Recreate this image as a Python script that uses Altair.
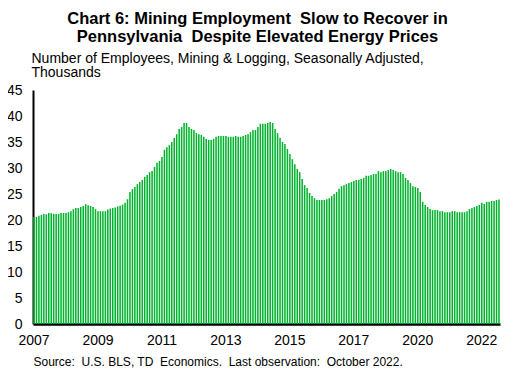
import altair as alt
import pandas as pd

# Monthly values, Jan 2007 .. Oct 2022 (thousands)
v2007 = [20.6, 20.6, 20.8, 21.0, 21.15, 21.1, 21.35, 21.3, 21.15, 21.15, 21.15, 21.35]
v2008 = [21.35, 21.35, 21.5, 21.7, 22.1, 22.3, 22.3, 22.5, 22.7, 23.05, 22.85, 22.7]
v2009 = [22.5, 22.1, 21.7, 21.7, 21.7, 21.7, 22.0, 22.2, 22.3, 22.4, 22.6, 22.75]
v2010 = [22.95, 23.3, 24.0, 25.4, 25.96, 26.35, 26.9, 27.3, 27.7, 28.3, 28.65, 29.2]
v2011 = [29.4, 30.2, 31.0, 31.35, 32.1, 33.5, 34.0, 34.4, 35.0, 35.8, 36.5, 37.5]
v2012 = [37.9, 38.65, 38.65, 37.9, 37.5, 37.3, 36.7, 36.5, 36.35, 36.0, 35.6, 35.4]
v2013 = [35.4, 35.6, 36.0, 36.15, 36.15, 36.15, 36.15, 36.0, 36.0, 36.0, 36.15, 36.0]
v2014 = [36.0, 36.15, 36.35, 36.5, 36.9, 37.3, 37.3, 37.9, 38.5, 38.5, 38.5, 38.65]
v2015 = [38.85, 38.65, 37.5, 36.7, 35.8, 35.0, 34.6, 33.65, 32.7, 31.7, 30.7, 29.8]
v2016 = [29.2, 27.9, 26.7, 26.15, 25.2, 24.6, 24.2, 23.85, 23.85, 23.85, 23.85, 24.0]
v2017 = [24.2, 24.6, 25.0, 25.4, 26.0, 26.5, 26.7, 26.9, 27.1, 27.3, 27.5, 27.7]
v2018 = [27.7, 27.9, 28.1, 28.5, 28.5, 28.65, 28.85, 28.85, 29.4, 29.2, 29.4, 29.4]
v2019 = [29.6, 29.8, 29.6, 29.4, 29.2, 29.2, 28.85, 28.1, 27.7, 27.1, 26.5, 26.35]
v2020 = [26.15, 25.4, 23.5, 22.9, 22.5, 22.1, 21.9, 21.9, 21.9, 21.7, 21.7, 21.5]
v2021 = [21.5, 21.5, 21.7, 21.7, 21.5, 21.5, 21.5, 21.5, 21.7, 22.1, 22.3, 22.5]
v2022 = [22.7, 22.9, 23.3, 23.1, 23.5, 23.5, 23.65, 23.65, 23.85, 23.95]

values = (v2007 + v2008 + v2009 + v2010 + v2011 + v2012 + v2013 + v2014
          + v2015 + v2016 + v2017 + v2018 + v2019 + v2020 + v2021 + v2022)

tick_index = [0, 26, 52, 78, 104, 130, 156, 182]
tick_labels = ["2007", "2009", "2011", "2013", "2015", "2017", "2020", "2022"]

NB = "\u00a0"
title_lines = [f"Chart 6: Mining Employment {NB}Slow to Recover in",
               f"Pennsylvania {NB}Despite Elevated Energy Prices"]
y_title = ["Number of Employees, Mining & Logging, Seasonally Adjusted,", "Thousands"]
source = f"Source: {NB}U.S. BLS, TD {NB}Economics. {NB}Last observation: {NB}October 2022."

df = pd.DataFrame({"idx": list(range(len(values))), "value": values})

expr = "''"
for i, lab in reversed(list(zip(tick_index, tick_labels))):
    expr = f"datum.value == {i} ? '{lab}' : ({expr})"

FONT = "Arial, Liberation Sans, sans-serif"

chart = alt.Chart(df).mark_bar(color="#00B32C").encode(
    x=alt.X("idx:O",
            scale=alt.Scale(paddingInner=0.38, paddingOuter=0.1),
            axis=alt.Axis(values=tick_index, labelExpr=expr, labelAngle=0,
                          ticks=False, tickSize=0, labelPadding=9, labelFontSize=14,
                          labelFont=FONT, labelColor="black",
                          domainColor="black", domainWidth=2.5,
                          title=source, titleFont=FONT, titleFontSize=12,
                          titleFontWeight="normal", titleColor="black",
                          titleAnchor="start", titleAlign="left", titleX=0,
                          titleY=41, titleBaseline="alphabetic")),
    y=alt.Y("value:Q",
            scale=alt.Scale(domain=[0, 45], nice=False),
            axis=alt.Axis(values=list(range(0, 50, 5)), grid=False, ticks=False,
                          tickSize=0, labelPadding=11, labelFontSize=14,
                          labelFont=FONT, labelColor="black",
                          domainColor="black", domainWidth=2,
                          title=y_title, titleAngle=0, titleAlign="left",
                          titleBaseline="alphabetic", titleX=-2, titleY=-28,
                          titleFont=FONT, titleFontSize=14, titleFontWeight="normal",
                          titleColor="black", titleLineHeight=14.5)),
).properties(
    width=467,
    height=234,
    title=alt.TitleParams(text=title_lines, font=FONT, fontSize=16.5, fontWeight="bold",
                          color="black", anchor="middle", dx=-9, offset=6,
                          lineHeight=18),
    autosize=alt.AutoSizeParams(type="none"),
    padding={"left": 25, "top": 82, "right": 7, "bottom": 52},
).configure_view(stroke=None)

chart.save("out.html", embed_options={"renderer": "svg", "actions": False})
